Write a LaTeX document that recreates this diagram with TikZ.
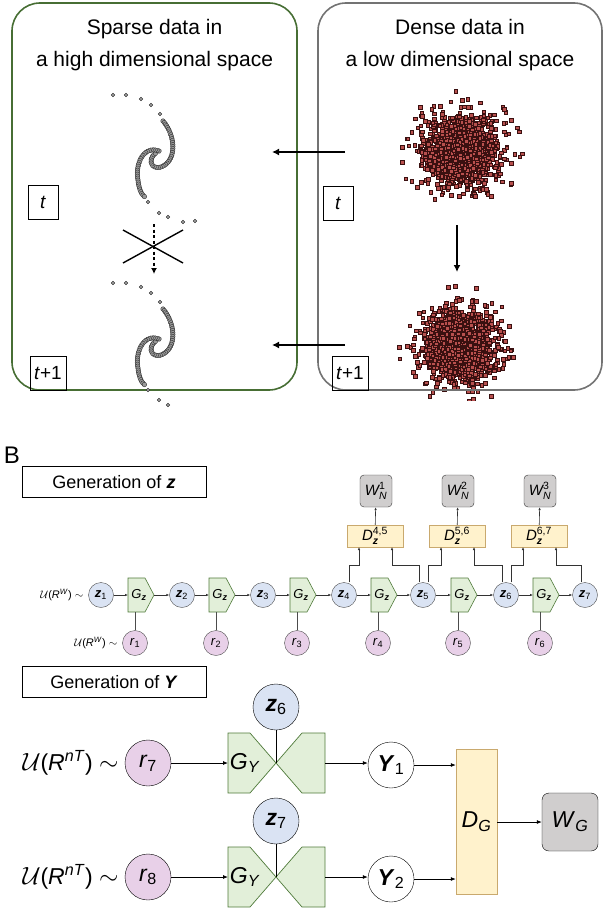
\documentclass[tikz,border=0pt]{standalone}
\usepackage{amsmath}
\usepackage{fontspec}
\setmainfont{Liberation Sans}
\usetikzlibrary{arrows.meta,decorations.markings}
\definecolor{zfill}{HTML}{DAE3F3}
\definecolor{rfill}{HTML}{E8D0E8}
\definecolor{gfill}{HTML}{E2EFD9}
\definecolor{gline}{HTML}{4F7A3A}
\definecolor{dfill}{HTML}{FFF2CC}
\definecolor{dline}{HTML}{C9A96E}
\definecolor{wfill}{HTML}{D0CECE}
\definecolor{red1}{HTML}{B8504E}
\definecolor{red2}{HTML}{3A1010}
\newcommand{\bz}{\textbf{\textit{z}}}
\newcommand{\bY}{\textbf{\textit{Y}}}
\begin{document}
\begin{tikzpicture}[x=1pt,y=-1pt,
  zc/.style={circle,draw=black!70,fill=zfill,minimum size=25pt,inner sep=0pt,font=\fontsize{13}{13}\selectfont},
  rc/.style={circle,draw=black!70,fill=rfill,minimum size=25pt,inner sep=0pt,font=\fontsize{13}{13}\selectfont},
  db/.style={draw=dline,fill=dfill,minimum width=56pt,minimum height=22pt,inner sep=0pt,font=\fontsize{15}{15}\selectfont},
  wb/.style={draw=black!80,fill=wfill,rounded corners=4pt,minimum width=32pt,minimum height=32pt,inner sep=0pt,font=\fontsize{15}{15}\selectfont},
  ar/.style={-{Latex[length=3pt,width=2.5pt]},black!80,line width=.6pt},
  bar/.style={-{Latex[length=5pt,width=4pt]},black,line width=.8pt},
  big/.style={font=\fontsize{23}{23}\selectfont},
  tbox/.style={draw,line width=.6pt,font=\fontsize{19}{19}\selectfont,inner sep=4pt},
  dots/.style={postaction={decorate,decoration={markings,mark=between positions 0 and 1 step 2pt with {\filldraw[fill=black!40,draw=black!85,line width=.35pt] (0,0) circle (2.3pt);}}}},
  sd/.style={fill=black!40,draw=black!85,line width=.35pt}
]
\useasboundingbox (0,0) rectangle (604,912);
% dense clouds
\pgfmathsetseed{11}
\begin{scope}
\clip (0,0) rectangle (604,400);
\foreach \cy in {150,345}{
  \foreach \i in {1,...,1300}{
    \pgfmathsetmacro\a{360*rnd}
    \pgfmathsetmacro\r{min(62,19*sqrt(-2*ln(rnd+0.0005)))}
    \filldraw[fill=red1,draw=red2,line width=.35pt] ({460+\r*cos(\a)-1.8},{\cy+0.95*\r*sin(\a)-1.8}) rectangle ++(3.6,3.6);
  }
}
\end{scope}
% panel A boxes
\draw[gline!90!black,line width=1.6pt,rounded corners=28pt] (12,3) rectangle (297,390);
\draw[black!55,line width=1.6pt,rounded corners=28pt] (318,3) rectangle (602,390);
\node[align=center,font=\fontsize{21}{32}\selectfont] (ts) at (154.5,45) {Sparse data in\\a high dimensional space};
\node[align=center,font=\fontsize{21}{32}\selectfont] (td) at (460,45) {Dense data in\\a low dimensional space};
\node[tbox,minimum width=30pt,minimum height=34pt] (lt) at (43,202) {\textit{t}};
\node[tbox,minimum width=30pt,minimum height=34pt] (rt) at (338,203) {\textit{t}};
\node[tbox,minimum height=34pt] (lt1) at (48,373) {\textit{t}+1};
\node[tbox,minimum height=34pt] (rt1) at (350,373) {\textit{t}+1};
% spirals
\foreach \dy in {0,188}{
  \begin{scope}[yshift=-\dy]
  \path[dots] (163,121) .. controls (176,136) and (177,161) .. (161,167) .. controls (150,170) and (148,158) .. (156,153);
  \path[dots] (159,151) .. controls (143,145) and (135,165) .. (138,180) .. controls (139,190) and (142,195) .. (145,197);
  \foreach \p in {(113,95),(126,95),(141,99),(151,105),(160,114),(148,202)}
    \filldraw[sd] \p circle (1.8pt);
  \end{scope}
}
\foreach \p in {(159,213),(168,217),(183,222),(195,221),(159,400),(168,405)}
  \filldraw[sd] \p circle (1.8pt);
% cross and dotted arrow
\draw[line width=1.4pt] (123,230) -- (183,263);
\draw[line width=1.4pt] (123,263) -- (183,230);
\coordinate (da) at (154,224); \coordinate (db) at (154,274);
\draw[line width=1.6pt,dash pattern=on 3pt off 2.5pt,-{Latex[length=6pt,width=6pt]}] (da) -- (db);
% panel arrows
\coordinate (a1s) at (345,152); \coordinate (a1e) at (272,152);
\coordinate (a2s) at (345,345); \coordinate (a2e) at (272,345);
\coordinate (a3s) at (457,225); \coordinate (a3e) at (457,272);
\draw[line width=1.8pt,-{Latex[length=7pt,width=7pt]}] (a1s) -- (a1e);
\draw[line width=1.8pt,-{Latex[length=7pt,width=7pt]}] (a2s) -- (a2e);
\draw[line width=1.8pt,-{Latex[length=7pt,width=7pt]}] (a3s) -- (a3e);
% panel B
\node[font=\fontsize{24}{24}\selectfont] (B) at (12,455) {B};
\node[tbox,minimum width=184pt,minimum height=31pt,font=\fontsize{18}{18}\selectfont] (gz) at (114,482) {Generation of \bz};
\node[tbox,minimum width=184pt,minimum height=31pt,font=\fontsize{18}{18}\selectfont] (gy) at (114,682) {Generation of \bY};
% z row
\foreach \n/\x in {1/101,2/182,3/263,4/344,5/423,6/506,7/585}
  \node[zc] (z\n) at (\x,595) {\bz\textsubscript{\n}};
\foreach \n/\x in {1/141,2/222,3/303,4/384,5/464,6/546}{
  \draw[draw=gline,fill=gfill,line width=.6pt] (\x-13,578) -- (\x+4,578) -- (\x+13,595) -- (\x+4,612) -- (\x-13,612) -- cycle;
  \node[inner sep=0pt,font=\fontsize{13}{13}\selectfont] (g\n) at (\x-2,595) {\textit{G}\textsubscript{\bz}};
  \coordinate (gin\n) at (\x-13,595);
  \coordinate (gout\n) at (\x+13,595);
  \coordinate (gb\n) at (\x-6,612);
  \node[rc] (r\n) at (\x-6,643) {\textit{r}\textsubscript{\n}};
  \draw[black!70,line width=.6pt] (r\n) -- (gb\n);
}
\node[font=\fontsize{11}{11}\selectfont,anchor=east] (u1) at (87,595) {$\mathcal{U}$(\textit{R}\textsuperscript{\textit{W}}) $\sim$};
\node[font=\fontsize{11}{11}\selectfont,anchor=east] (u2) at (121,643) {$\mathcal{U}$(\textit{R}\textsuperscript{\textit{W}}) $\sim$};
\foreach \a/\b in {1/2,2/3,3/4,4/5,5/6,6/7}{
  \draw[ar] (z\a) -- (gin\a);
  \draw[ar] (gout\a) -- (z\b);
}
% discriminators
\foreach \k/\m/\j/\x in {4/5/1/375,5/6/2/457,6/7/3/539}{
  \node[db] (d\j) at (\x,536) {$\textit{D}^{\text{\k,\m}}_{\text{\bz}}$};
  \node[wb] (w\j) at (\x+1,491) {$\textit{W}^{\text{\j}}_{\text{\textit{N}}}$};
  \draw[ar] (d\j) -- (w\j);
  \draw[ar] ([xshift=5pt]z\k.north) |- (\x-16,565) -- (\x-16,547);
  \draw[ar] ([xshift=-4pt]z\m.north) |- (\x+17,565) -- (\x+17,547);
}
% Y generation
\foreach \i/\y/\zz/\rr in {1/763/6/7,2/877/7/8}{
  \draw[draw=gline,fill=gfill,line width=.7pt] (228,\y-30) -- (250,\y-30) -- (276,\y) -- (302,\y-30) -- (325,\y-30) -- (325,\y+30) -- (302,\y+30) -- (276,\y) -- (250,\y+30) -- (228,\y+30) -- cycle;
  \node[big,inner sep=0pt] (gy\i) at (245,\y) {\textit{G}\textsubscript{\textit{Y}}};
  \coordinate (gyc\i) at (276,\y);
  \coordinate (gyin\i) at (228,\y);
  \coordinate (gyout\i) at (325,\y);
  \node[circle,draw,fill=zfill,minimum size=46pt,inner sep=0pt,big] (zz\i) at (276,\y-56) {\bz\textsubscript{\zz}};
  \draw[line width=.7pt] (zz\i) -- (gyc\i);
  \node[circle,draw,fill=rfill,minimum size=46pt,inner sep=0pt,big] (rr\i) at (148,\y) {\textit{r}\textsubscript{\rr}};
  \node[big,anchor=east] (uu\i) at (122,\y) {$\mathcal{U}$(\textit{R}\textsuperscript{\textit{nT}}) $\sim$};
  \node[circle,draw,minimum size=46pt,inner sep=0pt,big] (y\i) at (391,\y+2) {\bY\textsubscript{\i}};
  \draw[bar] (rr\i) -- (gyin\i);
  \draw[bar] (gyout\i) -- (y\i.west |- gyout\i);
}
\node[draw=dline,fill=dfill,minimum width=41pt,minimum height=145pt,inner sep=0pt,big] (dg) at (476.5,822) {\textit{D}\textsubscript{\textit{G}}};
\node[draw,fill=wfill,rounded corners=7pt,minimum width=56pt,minimum height=58pt,inner sep=0pt,big] (wg) at (570,822) {\textit{W}\textsubscript{\textit{G}}};
\draw[bar] (y1.east) -- (dg.west |- y1.east);
\draw[bar] (y2.east) -- (dg.west |- y2.east);
\draw[bar] (dg) -- (wg);
\end{tikzpicture}
\end{document}
